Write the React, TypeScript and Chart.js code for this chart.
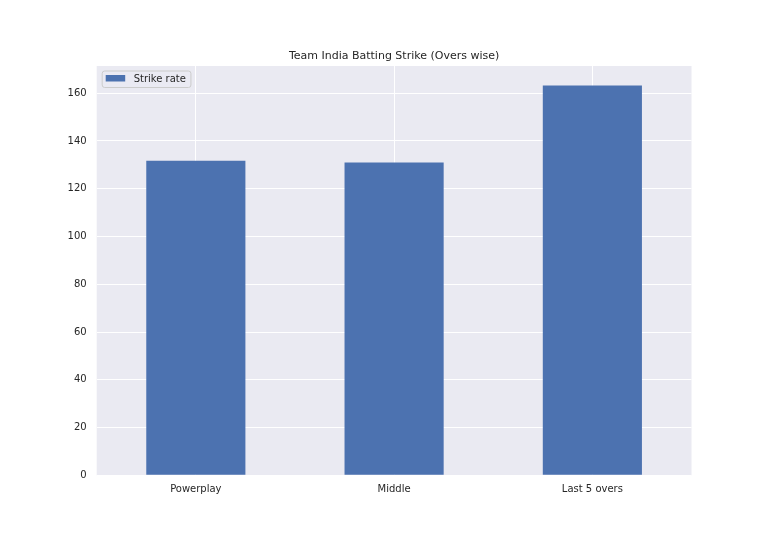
import { useEffect, useRef } from "react";
import { Chart, registerables } from "chart.js";

Chart.register(...registerables);

const categories = ["Powerplay", "Middle", "Last 5 overs"];
const strikeRate = [131.7, 131.0, 163.2];
const seriesLabel = "Strike rate";
const chartTitle = "Team India Batting Strike (Overs wise)";

const FONT = "'DejaVu Sans', sans-serif";
const TEXT = "#262626";
const AXES_BG = "#EAEAF2";
const BAR = "#4C72B0";

// seaborn-style grey plot area
const plotBackground = {
  id: "plotBackground",
  beforeDraw(chart: Chart) {
    const { ctx, chartArea } = chart;
    ctx.save();
    ctx.fillStyle = AXES_BG;
    ctx.fillRect(chartArea.left, chartArea.top, chartArea.right - chartArea.left, chartArea.bottom - chartArea.top);
    ctx.restore();
  },
};

// matplotlib-like legend box inside the top-left of the axes
const frameLegend = {
  id: "frameLegend",
  afterDraw(chart: Chart) {
    const { ctx, chartArea } = chart;
    const ds = chart.data.datasets[0];
    const x = chartArea.left + 5;
    const y = chartArea.top + 4.5;
    ctx.save();
    ctx.font = `10px ${FONT}`;
    const textW = ctx.measureText(String(ds.label)).width;
    const w = 32 + textW + 4.5;
    const h = 16.5;
    ctx.beginPath();
    ctx.roundRect(x + 0.5, y + 0.5, w, h, 2.5);
    ctx.fillStyle = "rgba(234,234,242,0.8)";
    ctx.fill();
    ctx.strokeStyle = "#CCCCCC";
    ctx.lineWidth = 1;
    ctx.stroke();
    ctx.fillStyle = String(ds.backgroundColor);
    ctx.fillRect(x + 4, y + 4.5, 19.5, 6.5);
    ctx.fillStyle = TEXT;
    ctx.textBaseline = "middle";
    ctx.fillText(String(ds.label), x + 32, y + 8.5);
    ctx.restore();
  },
};

export default function App() {
  const chartRef = useRef<HTMLCanvasElement>(null);
  const chartInstanceRef = useRef<Chart | null>(null);

  useEffect(() => {
    if (!chartRef.current) return;
    if (chartInstanceRef.current) {
      chartInstanceRef.current.destroy();
    }
    const ctx = chartRef.current.getContext("2d");
    if (!ctx) return;

    chartInstanceRef.current = new Chart(ctx, {
      type: "bar",
      data: {
        labels: categories,
        datasets: [
          {
            label: seriesLabel,
            data: strikeRate,
            backgroundColor: BAR,
            borderWidth: 0,
            barPercentage: 0.5,
            categoryPercentage: 1,
          },
        ],
      },
      options: {
        animation: false,
        responsive: true,
        maintainAspectRatio: false,
        layout: { padding: { left: 0, right: 76.5, top: 0, bottom: 0 } },
        plugins: {
          legend: { display: false },
          tooltip: { enabled: false },
          title: {
            display: true,
            text: chartTitle,
            fullSize: false,
            color: TEXT,
            font: { family: FONT, size: 11, weight: "normal" },
            padding: { top: 50, bottom: 2.8 },
          },
        },
        scales: {
          x: {
            grid: { color: "#FFFFFF", lineWidth: 1, offset: false, drawTicks: false },
            border: { display: false },
            ticks: { color: TEXT, font: { family: FONT, size: 10 }, padding: 8 },
            afterFit: (scale: any) => {
              scale.height = 67.7;
            },
          },
          y: {
            min: 0,
            max: 171.4,
            grid: { color: "#FFFFFF", lineWidth: 1, drawTicks: false },
            border: { display: false },
            ticks: {
              stepSize: 20,
              includeBounds: false,
              color: TEXT,
              font: { family: FONT, size: 10 },
              padding: 10,
            },
            afterFit: (scale: any) => {
              scale.width = 96.7;
            },
          },
        },
      },
      plugins: [plotBackground, frameLegend],
    });

    return () => {
      if (chartInstanceRef.current) {
        chartInstanceRef.current.destroy();
      }
    };
  }, []);

  return (
    <div style={{ position: "fixed", left: 0, top: 0, width: 768, height: 543, background: "#FFFFFF" }}>
      <canvas ref={chartRef} />
    </div>
  );
}
